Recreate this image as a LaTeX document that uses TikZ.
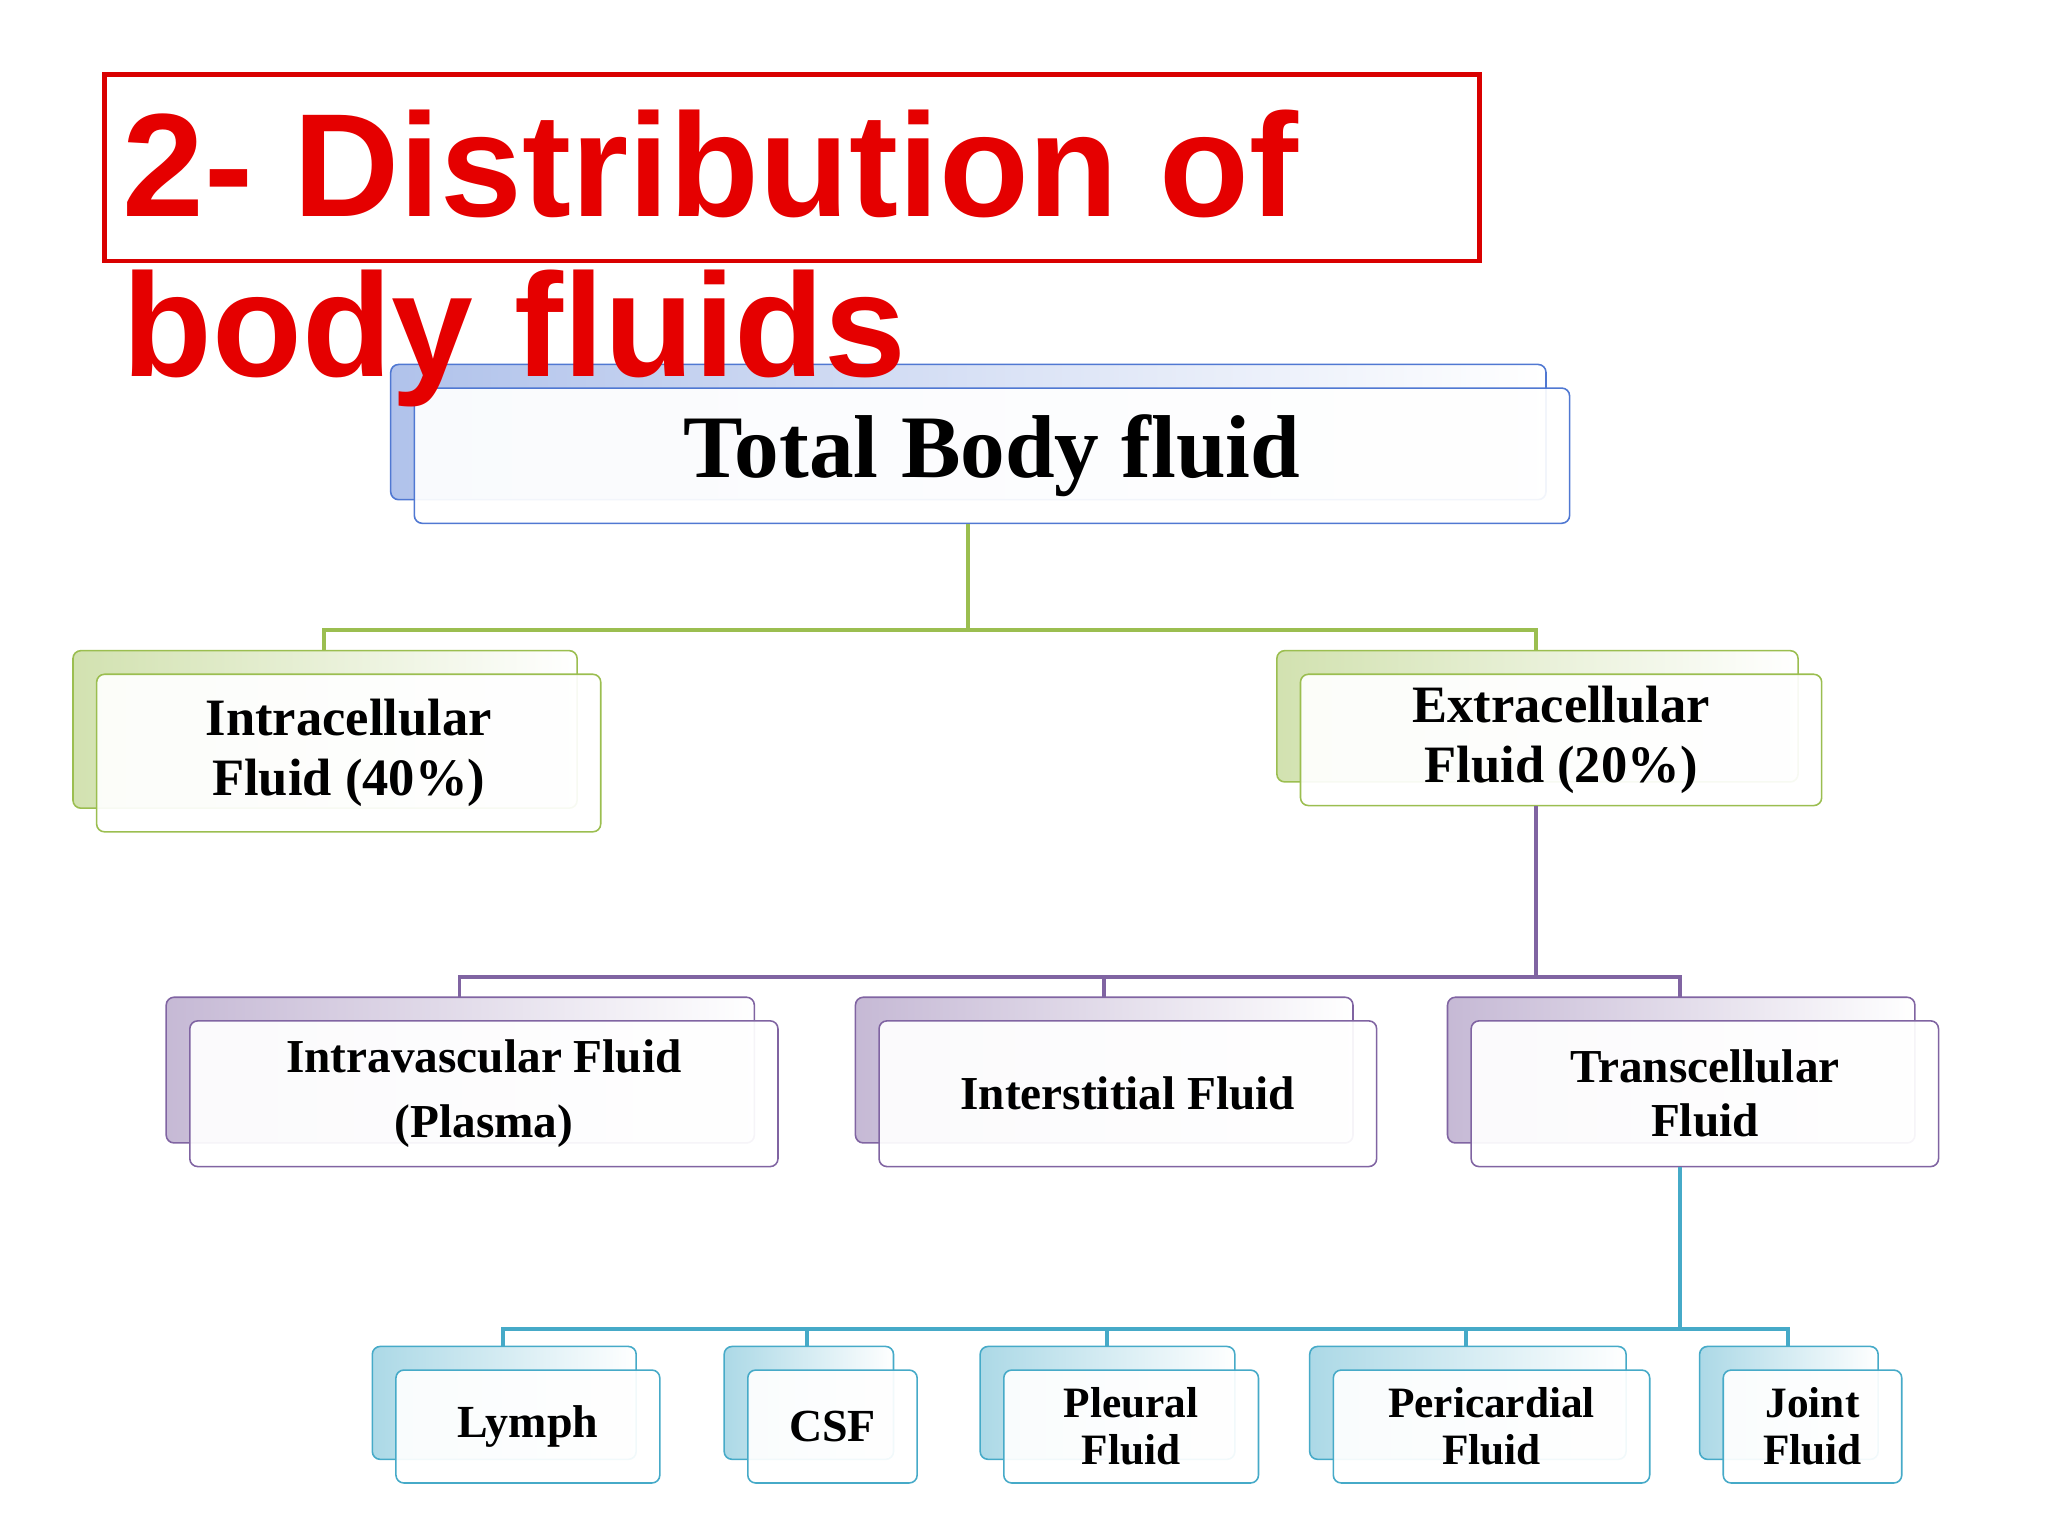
\documentclass[tikz,border=0pt]{standalone}
\usepackage{fontspec}
\setmainfont{Liberation Serif}
\newfontfamily\titlefont{Liberation Sans}
\definecolor{cblue}{RGB}{80,120,210}
\definecolor{cgreen}{RGB}{155,190,80}
\definecolor{cpurple}{RGB}{128,100,162}
\definecolor{ccyan}{RGB}{70,170,200}
\begin{document}
\begin{tikzpicture}[x=1pt,y=-1pt,
  backbox/.style={draw=#1, rounded corners=6pt, line width=1.2pt, left color=#1!45, right color=white},
  frontbox/.style={draw=#1, rounded corners=6pt, line width=1.2pt, fill=white, fill opacity=0.93, text opacity=1},
  conn/.style={draw=#1, line width=3pt}]
\useasboundingbox (0,0) rectangle (1560,1170);
\newcommand\pairbox[9]{%
  \node[backbox=#6, minimum width=#4-#2, minimum height=#5-#3, anchor=north west] (#1b) at (#2-18,#3-18) {};
  \node[frontbox=#6, minimum width=#4-#2, minimum height=#5-#3, anchor=north west, align=center, font=\bfseries\fontsize{#7}{#9}\selectfont] (#1) at (#2,#3) {#8};}
\node[draw=red!85!black, line width=3.5pt, minimum width=1047, minimum height=142, anchor=north west] (tbox) at (78,55) {};
\node[anchor=base west, text=red!90!black, font=\titlefont\bfseries\fontsize{112}{112}\selectfont, inner sep=0] (t1) at (93,165) {2- Distribution of};
\coordinate (g1) at (737,480);
\coordinate (p1) at (1170,744);
\coordinate (c1) at (1280,1012);
\pairbox{tot}{315}{295}{1195}{398}{cblue}{68}{Total Body fluid}{78}
\pairbox{icf}{73}{513}{457}{633}{cgreen}{40}{Intracellular\\Fluid (40\%)}{46}
\pairbox{ecf}{990}{513}{1387}{613}{cgreen}{40}{Extracellular\\Fluid (20\%)}{46}
\pairbox{ivf}{144}{777}{592}{888}{cpurple}{36}{Intravascular Fluid\\[8pt](Plasma)}{41}
\pairbox{isf}{669}{777}{1048}{888}{cpurple}{36}{Interstitial Fluid}{41}
\pairbox{tcf}{1120}{777}{1476}{888}{cpurple}{36}{Transcellular\\Fluid}{41}
\pairbox{lym}{301}{1043}{502}{1129}{ccyan}{35}{Lymph}{40}
\pairbox{csf}{569}{1043}{698}{1129}{ccyan}{35}{CSF}{40}
\pairbox{ple}{764}{1043}{958}{1129}{ccyan}{33}{Pleural\\Fluid}{36}
\pairbox{per}{1015}{1043}{1256}{1129}{ccyan}{33}{Pericardial\\Fluid}{36}
\pairbox{joi}{1312}{1043}{1448}{1129}{ccyan}{33}{Joint\\Fluid}{36}
\node[anchor=base west, text=red!90!black, font=\titlefont\bfseries\fontsize{112}{112}\selectfont, inner sep=0] (t2) at (93,287) {body fluids};
\draw[conn=cgreen] (tot.south -| g1) -- (g1) -- (247,480) -- (247,495);
\draw[conn=cgreen] (g1) -- (1170,480) -- (1170,495);
\draw[conn=cpurple] (ecf.south -| p1) -- (p1) -- (350,744) -- (350,760);
\draw[conn=cpurple] (p1) -- (1280,744) -- (1280,760);
\draw[conn=cpurple] (841,744) -- (841,760);
\draw[conn=ccyan] (tcf.south -| c1) -- (c1) -- (383,1012) -- (383,1026);
\draw[conn=ccyan] (c1) -- (1362,1012) -- (1362,1026);
\draw[conn=ccyan] (615,1012) -- (615,1026);
\draw[conn=ccyan] (843,1012) -- (843,1026);
\draw[conn=ccyan] (1117,1012) -- (1117,1026);
\end{tikzpicture}
\end{document}
